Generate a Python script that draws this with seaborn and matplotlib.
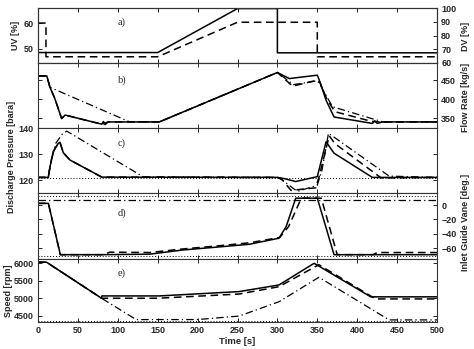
import matplotlib
matplotlib.use("Agg")
import matplotlib.pyplot as plt
import seaborn as sns

sns.set_style("ticks")
plt.rcParams["font.family"] = ["Liberation Sans", "DejaVu Sans"]

# ---------------- data ----------------
# a) valve openings
t_uv = [0, 10, 10, 150, 250, 350, 350, 500]
uv = [60, 60, 47, 47, 60.3, 60.3, 47, 47]
t_dv = [0, 150, 250, 300, 300, 500]
dv = [67.6, 67.6, 99.6, 99.6, 67.4, 67.4]

# b) flow rate
t_fr_solid = [0, 11, 15, 21, 29.6, 34, 80, 82, 84, 88, 152, 300, 315, 350, 352.5, 361, 371, 419, 422, 425, 432, 500]
fr_solid = [461, 461, 431, 402, 349, 358, 334, 341, 333, 340, 340, 470, 454, 463, 450, 397, 353, 336, 343, 336, 340, 340]
t_fr_dash = [0, 11, 15, 21, 29.6, 34, 80, 88, 152, 300, 319, 350, 353, 362, 372, 417, 425, 500]
fr_dash = [461, 461, 431, 402, 349, 358, 334, 340, 340, 470, 434, 450, 445, 400, 367, 342, 340, 340]
t_fr_dd = [0, 11, 15, 115, 152, 300, 320, 350, 353, 369, 432, 500]
fr_dd = [461, 461, 431, 340, 340, 470, 438, 448, 440, 380, 340, 340]

# c) discharge pressure
t_p_solid = [0, 12.9, 15, 19, 25.4, 27.5, 31.7, 40, 80, 300, 309, 323, 350, 361, 371, 419, 500]
p_solid = [121, 121, 125, 130.9, 134.1, 134.5, 130.5, 127.7, 121.1, 121, 120.5, 119.4, 121.3, 134.7, 130.3, 121, 121]
t_p_dash = [0, 12.9, 15, 19, 25.4, 27.5, 31.7, 40, 80, 300, 305, 317, 348, 352, 365, 372, 430, 500]
p_dash = [121, 121, 125, 130.9, 134.1, 134.5, 130.5, 127.7, 121.1, 121, 120.5, 116, 117, 121, 137, 134, 120.8, 121]
t_p_dd = [0, 12.9, 15, 22, 30, 36, 132, 300, 306, 325, 350, 356, 364, 440, 500]
p_dd = [121, 121, 125, 134, 137.5, 138.8, 121.2, 121, 120, 115.6, 118, 124, 138, 121.5, 121]
t_p_dot = [0, 500]
p_dot = [120.9, 120.9]

# d) inlet guide vane
t_igv_solid = [0, 13, 28, 80, 140, 182, 223, 265, 302, 311, 323, 350, 371, 500]
igv_solid = [2.3, 2.3, -69, -69, -68.3, -62.4, -58.6, -54.5, -46.1, -29.9, 9.5, 9.5, -69, -69]
t_igv_dash = [0, 13, 28, 82, 90, 140, 182, 223, 265, 303, 314, 330, 355, 375, 420, 425, 500]
igv_dash = [2.3, 2.3, -69, -69, -65.5, -66, -61, -57, -52.5, -45, -30, 9.5, 9.5, -69, -69, -66, -66]
t_igv_dd = [0, 500]
igv_dd = [6.7, 6.7]
t_igv_dot = [0, 500]
igv_dot_hi = [12.3, 12.3]
igv_dot_lo = [-71.5, -71.5]

# e) speed
t_n_solid = [0, 10.8, 79.6, 80, 152, 252, 302, 346, 417, 500]
n_solid = [6030, 6030, 5000, 5066, 5066, 5190, 5380, 6000, 5040, 5040]
t_n_dash = [0, 10.8, 79.6, 85, 150, 252, 302, 352, 423, 500]
n_dash = [6030, 6030, 5000, 5000, 5000, 5120, 5330, 5960, 4980, 4980]
t_n_dd = [0, 10.8, 79.6, 123, 200, 252, 302, 352, 440, 500]
n_dd = [6030, 6030, 5000, 4390, 4390, 4490, 4900, 5600, 4380, 4380]
t_n_dot = [0, 500]
n_dot = [4340, 4340]

x_ticks = list(range(0, 501, 50))
uv_ticks = [50, 60]
dv_ticks = [60, 70, 80, 90, 100]
fr_ticks = [350, 400, 450]
p_ticks = [120, 130, 140]
igv_ticks = [0, -20, -40, -60]
n_ticks = [4500, 5000, 5500, 6000]
panel_letters = ["a)", "b)", "c)", "d)", "e)"]

# ---------------- styles ----------------
SOLID = dict(color="black", lw=1.1, linestyle="-")
DASH = dict(color="black", lw=1.1, linestyle=(0, (5, 3)))
DASHDOT = dict(color="black", lw=0.9, linestyle=(0, (6, 2.5, 1, 2.5)))
DOT = dict(color="black", lw=0.7, linestyle=(0, (1, 2)))

TS = 6.5  # tick label size
W, H = 474, 349
fig = plt.figure(figsize=(W / 100, H / 100), dpi=100)
gs = fig.add_gridspec(5, 1, left=38 / W, right=437 / W, top=1 - 8 / H, bottom=1 - 322 / H,
                      hspace=0, height_ratios=[55, 65, 65, 66, 63])
axes = [fig.add_subplot(gs[i]) for i in range(5)]


def draw(ax, t, v, style):
    sns.lineplot(x=t, y=v, ax=ax, estimator=None, sort=False, legend=False, **style)


def style_ax(ax, right_labels):
    ax.set_xlim(0, 500)
    ax.set_xticks(x_ticks)
    ax.tick_params(axis="both", direction="in", length=3, width=0.7, top=True, bottom=True,
                   left=True, right=True, labelsize=TS, pad=3)
    ax.tick_params(axis="y", labelleft=not right_labels, labelright=right_labels)
    for s in ax.spines.values():
        s.set_linewidth(0.8)
        s.set_color("#333333")
    ax.set_xlabel("")
    ax.set_ylabel("")
    for lab in ax.get_yticklabels() + ax.get_xticklabels():
        lab.set_fontweight("bold")


# a)
ax = axes[0]
draw(ax, t_uv, uv, DASH)
ax.set_ylim(44.6, 65.8)
ax.set_yticks(uv_ticks)
style_ax(ax, False)
ax.tick_params(axis="y", right=False)
ax.tick_params(labelbottom=False)
tw = ax.twinx()
draw(tw, t_dv, dv, SOLID)
tw.set_ylim(60, 100)
tw.set_yticks(dv_ticks)
tw.tick_params(axis="y", direction="in", length=3, width=0.7, labelsize=TS, pad=3)
tw.set_ylabel("")
for lab in tw.get_yticklabels():
    lab.set_fontweight("bold")
for s in tw.spines.values():
    s.set_linewidth(0.8)
    s.set_color("#333333")

# b)
ax = axes[1]
draw(ax, t_fr_dd, fr_dd, DASHDOT)
draw(ax, t_fr_dash, fr_dash, DASH)
draw(ax, t_fr_solid, fr_solid, SOLID)
ax.set_ylim(324, 495)
ax.set_yticks(fr_ticks)
style_ax(ax, True)
ax.tick_params(labelbottom=False)

# c)
ax = axes[2]
draw(ax, t_p_dot, p_dot, DOT)
draw(ax, t_p_dd, p_dd, DASHDOT)
draw(ax, t_p_dash, p_dash, DASH)
draw(ax, t_p_solid, p_solid, SOLID)
ax.set_ylim(115, 140)
ax.set_yticks(p_ticks)
style_ax(ax, False)
ax.tick_params(labelbottom=False)

# d)
ax = axes[3]
draw(ax, t_igv_dot, igv_dot_hi, DOT)
draw(ax, t_igv_dot, igv_dot_lo, DOT)
draw(ax, t_igv_dd, igv_dd, DASHDOT)
draw(ax, t_igv_dash, igv_dash, DASH)
draw(ax, t_igv_solid, igv_solid, SOLID)
ax.set_ylim(-75, 16.7)
ax.set_yticks(igv_ticks)
style_ax(ax, True)
ax.tick_params(labelbottom=False)

# e)
ax = axes[4]
draw(ax, t_n_dot, n_dot, DOT)
draw(ax, t_n_dd, n_dd, DASHDOT)
draw(ax, t_n_dash, n_dash, DASH)
draw(ax, t_n_solid, n_solid, SOLID)
ax.set_ylim(4320, 6123)
ax.set_yticks(n_ticks)
style_ax(ax, False)
ax.set_xlabel("Time [s]", fontsize=6.8, fontweight="bold", labelpad=1)

letter_y = [0.733, 0.74, 0.765, 0.70, 0.78]
for ax, letter, ly in zip(axes, panel_letters, letter_y):
    ax.text(0.21, ly, letter, transform=ax.transAxes, ha="center", va="center",
            fontsize=7.5, family=["Liberation Serif", "DejaVu Serif"])

LBL = dict(rotation=90, ha="center", va="center", fontsize=6.5, fontweight="bold")
fig.text(16 / W, 1 - 35 / H, "UV [%]", **LBL)
fig.text(12 / W, 1 - 157 / H, "Discharge Pressure [bara]", **LBL)
fig.text(8.5 / W, 1 - 291 / H, "Speed [rpm]", **LBL)
fig.text(466 / W, 1 - 36 / H, "DV [%]", **LBL)
fig.text(466 / W, 1 - 97 / H, "Flow Rate [kg/s]", **LBL)
fig.text(466 / W, 1 - 222 / H, "Inlet Guide Vane [deg.]", **LBL)

fig.savefig("out.png", dpi=100)
